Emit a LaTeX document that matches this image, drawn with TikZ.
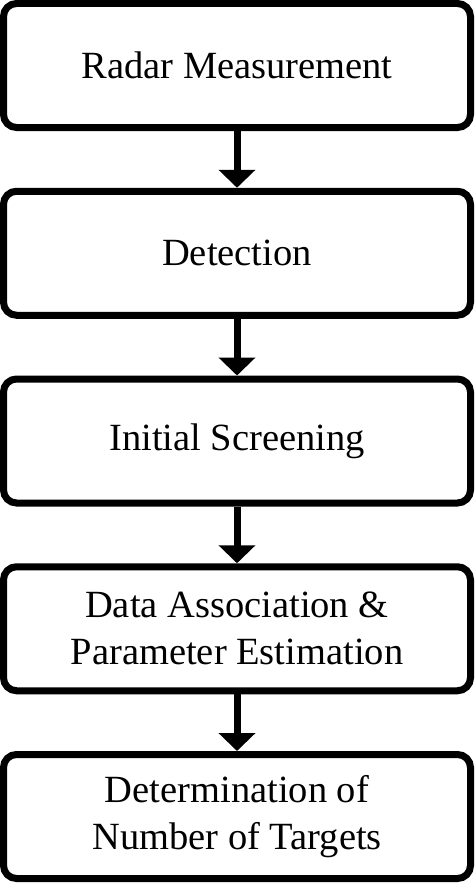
\documentclass[tikz,border=0pt]{standalone}
\usepackage{fontspec}
\setmainfont{Liberation Serif}
\usetikzlibrary{positioning,arrows.meta}

\begin{document}
\begin{tikzpicture}[
    stagebox/.style={draw,line width=7pt,rounded corners=13pt,
      minimum width=467pt,minimum height=124pt,align=center,
      font=\fontsize{38.5}{47}\selectfont},
    flow/.style={line width=7pt,-{Triangle[width=36pt,length=18pt]}},
    node distance=56.75pt
  ]
    \useasboundingbox (0,0) rectangle (474pt,-883pt);

    \node[stagebox] (radar) at (237pt,-65.5pt) {Radar Measurement};
    \node[stagebox,below=of radar] (detect) {Detection};
    \node[stagebox,below=of detect] (screen) {Initial Screening};
    \node[stagebox,below=of screen] (assoc) {Data Association \&\\Parameter Estimation};
    \node[stagebox,below=of assoc] (count) {Determination of\\Number of Targets};

    \draw[flow] (radar) -- (detect);
    \draw[flow] (detect) -- (screen);
    \draw[flow] (screen) -- (assoc);
    \draw[flow] (assoc) -- (count);

  \end{tikzpicture}
\end{document}
